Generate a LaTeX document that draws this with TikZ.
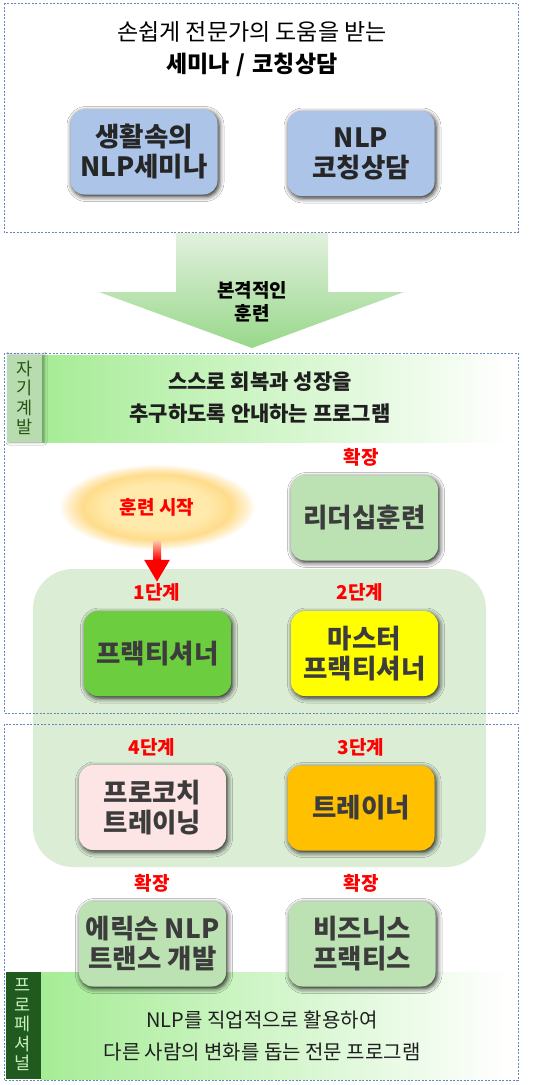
\documentclass[tikz,border=0pt]{standalone}
\usepackage{fontspec}
\setmainfont{Noto Sans CJK KR}
\usetikzlibrary{shadows.blur,arrows.meta,calc,shapes.geometric}
\definecolor{frameblue}{RGB}{100,135,190}
\definecolor{boxblue}{RGB}{171,196,231}
\definecolor{boxsage}{RGB}{188,226,180}
\definecolor{boxgreen}{RGB}{108,206,62}
\definecolor{boxyellow}{RGB}{255,255,0}
\definecolor{boxpink}{RGB}{253,229,229}
\definecolor{boxorange}{RGB}{255,192,0}
\definecolor{regiongreen}{RGB}{220,237,214}
\definecolor{bandgreen}{RGB}{166,236,150}
\definecolor{bandmid}{RGB}{210,244,203}
\definecolor{labgreen}{RGB}{184,220,176}
\definecolor{labtext}{RGB}{40,85,20}
\definecolor{darklab}{RGB}{33,90,31}
\definecolor{darklabtext}{RGB}{200,240,190}
\definecolor{arrowtop}{RGB}{226,240,222}
\definecolor{arrowbot}{RGB}{152,216,138}
\definecolor{glowA}{RGB}{255,234,172}
\definecolor{glowB}{RGB}{255,220,140}
\definecolor{glowC}{RGB}{255,238,200}
\definecolor{shafttop}{RGB}{255,205,175}
\definecolor{boxtext}{RGB}{60,60,60}
\pgfdeclareradialshading{glowshade}{\pgfpoint{0bp}{0bp}}{color(0bp)=(glowA); color(13bp)=(glowA); color(19bp)=(glowB); color(22.5bp)=(glowC); color(25bp)=(white); color(50bp)=(white)}
\tikzset{
  boxstyle/.style={rounded corners=14pt, minimum width=147pt, minimum height=85pt,
    align=center, text=boxtext, font=\bfseries\fontsize{26.5}{30}\selectfont,
    blur shadow={shadow blur radius=5pt, shadow xshift=1.5pt, shadow yshift=-2pt, shadow opacity=90}},
  redlbl/.style={text=red, font=\bfseries\fontsize{19}{21}\selectfont, inner sep=1pt},
  frame/.style={draw=frameblue, line width=0.7pt, dash pattern=on 2pt off 1.5pt},
  bandtext/.style={align=center, font=\fontsize{20}{32}\selectfont, text=black!88},
  vlab/.style={align=center, font=\fontsize{17.5}{19.5}\selectfont},
}
\begin{document}
\begin{tikzpicture}[x=1pt,y=-1pt]
\useasboundingbox (0,0) rectangle (534,1085);
\fill[white] (0,0) rectangle (534,1085);

% bands
\shade[left color=bandgreen, middle color=bandmid, right color=white] (42,355) rectangle (510,442);
\fill[labgreen, blur shadow={shadow blur radius=3pt, shadow xshift=2pt, shadow yshift=0pt, shadow opacity=40}] (7,355) rectangle (42,442);
\shade[left color=bandgreen, middle color=bandmid, right color=white] (41,972) rectangle (510,1079);
\fill[darklab] (6,972) rectangle (41,1079);

% big light-green region
\fill[regiongreen, rounded corners=40pt] (33,569) rectangle (486,867);

% big arrow
\shade[top color=arrowtop, bottom color=arrowbot] (176,233) -- (328,233) -- (328,292) -- (404,292) -- (252,348) -- (99,292) -- (176,292) -- cycle;

% texts
\node (title1) at (252,32) {\fontsize{23}{26}\selectfont 손쉽게 전문가의 도움을 받는};
\node (title2) at (252,65) {\bfseries\fontsize{23}{26}\selectfont 세미나\hspace{7pt}/\hspace{7pt}코칭상담};
\node[align=center, font=\bfseries\fontsize{19}{23}\selectfont] (arrtxt) at (252,302) {본격적인\\훈련};
\node[bandtext, font=\bfseries\fontsize{21}{32}\selectfont] (band1) at (260,398) {스스로 회복과 성장을\\추구하도록 안내하는 프로그램};
\node[vlab, text=labtext] (lab1) at (25,398) {자\\기\\계\\발};
\node[bandtext] (band2) at (262,1036) {NLP를 직업적으로 활용하여\\다른 사람의 변화를 돕는 전문 프로그램};
\node[vlab, text=darklabtext] (lab2) at (23,1025) {프\\로\\페\\셔\\널};

% glow ellipse
\node[ellipse, shading=glowshade, minimum width=196pt, minimum height=86pt, text=red,
  font=\bfseries\fontsize{19}{21}\selectfont] (glow) at (157,507) {훈련 시작};

% red labels
\node[redlbl] (ext1) at (361,457) {확장};
\node[redlbl] (s1) at (157,592) {1단계};
\node[redlbl] (s2) at (360,592) {2단계};
\node[redlbl] (s4) at (152,747) {4단계};
\node[redlbl] (s3) at (361,747) {3단계};
\node[redlbl] (ext2) at (152,883) {확장};
\node[redlbl] (ext3) at (361,883) {확장};

% boxes
\node[boxstyle, fill=boxblue, text=black!85] (seminar) at (144,152) {생활속의\\NLP세미나};
\node[boxstyle, fill=boxblue, text=black!85] (coaching) at (361,153.5) {NLP\\코칭상담};
\node[boxstyle, fill=boxsage] (leader) at (364.5,518) {리더십훈련};
\node[boxstyle, fill=boxgreen] (pract) at (157.5,653.5) {프랙티셔너};
\node[boxstyle, fill=boxyellow] (master) at (364.5,653.5) {마스터\\프랙티셔너};
\node[boxstyle, fill=boxpink] (procoach) at (152.5,807.5) {프로코치\\트레이닝};
\node[boxstyle, fill=boxorange] (trainer) at (361,808) {트레이너};
\node[boxstyle, fill=boxsage] (erickson) at (152.5,944) {에릭슨 NLP\\트랜스 개발};
\node[boxstyle, fill=boxsage] (business) at (362,944) {비즈니스\\프랙티스};

% red arrow (solid head, shaft fading in from the glow)
\coordinate (ashaft) at ($(glow.south)+(0,-10)$);
\draw[red, line width=8pt, -{Triangle[width=24pt,length=22pt]}] (ashaft) -- (s1.north);
\shade[top color=shafttop, bottom color=red] ($(ashaft)+(-4,0)$) rectangle ($(s1.north)+(4,-22)$);

% dashed frames
\draw[frame] (4,3) rectangle (518,232);
\draw[frame] (4,353) rectangle (518,713);
\draw[frame] (4,724) rectangle (518,1080);
\end{tikzpicture}
\end{document}
